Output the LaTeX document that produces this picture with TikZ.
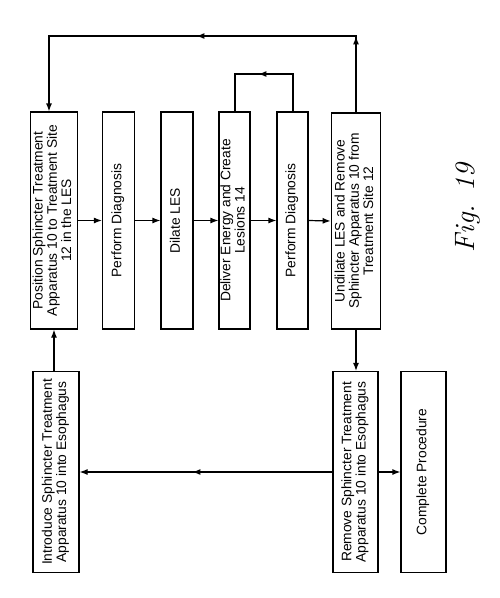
\documentclass[tikz,border=0pt]{standalone}
\usepackage{fontspec}
\newfontfamily\boxfont{Liberation Sans}
\usetikzlibrary{arrows.meta,decorations.markings}
\newcommand{\rtext}[1]{\rotatebox{90}{\begin{tabular}{@{}c@{}}#1\end{tabular}}}
\begin{document}
\begin{tikzpicture}[x=1pt,y=-1pt,
  box/.style={draw, line width=1.2pt, inner sep=0pt, align=center,
    font=\boxfont\fontsize{13.8}{14}\selectfont},
  tip/.style={-{Latex[length=8pt,width=6pt]}},
  conn/.style={line width=1.2pt},
  markat/.style={postaction={decorate}, decoration={markings,
    mark=at position #1 with {\arrow{Latex[length=8pt,width=6pt]}}}}
]
\useasboundingbox (0,0) rectangle (500,598);
% top row
\node[box, minimum width=47pt, minimum height=217pt] (A1) at (54,220.5)
  {\rtext{Position Sphincter Treatment\\Apparatus 10 to Treatment Site\\12 in the LES}};
\node[box, minimum width=32pt, minimum height=217pt] (A2) at (118.5,220.5)
  {\rtext{Perform Diagnosis}};
\node[box, minimum width=32pt, minimum height=217pt] (A3) at (177,220.5)
  {\rtext{Dilate LES}};
\node[box, minimum width=31pt, minimum height=217pt] (A4) at (234.5,220.5)
  {\rtext{Deliver Energy and Create\\Lesions 14}};
\node[box, minimum width=31pt, minimum height=217pt] (A5) at (292.5,220.5)
  {\rtext{Perform Diagnosis}};
\node[box, minimum width=49.5pt, minimum height=216pt] (A6) at (356,221)
  {\rtext{Undilate LES and Remove\\Sphincter Apparatus 10 from\\Treatment Site 12}};
% bottom row
\node[box, minimum width=46pt, minimum height=201pt] (B1) at (56,472)
  {\rtext{Introduce Sphincter Treatment\\Apparatus 10 into Esophagus}};
\node[box, minimum width=45pt, minimum height=201pt] (B2) at (355.5,472)
  {\rtext{Remove Sphincter Treatment\\Apparatus 10 into Esophagus}};
\node[box, minimum width=45pt, minimum height=201pt] (B3) at (423.5,472)
  {\rtext{Complete Procedure}};
% figure label
\node[rotate=90, font=\itshape\fontsize{28}{28}\selectfont] (fig) at (468,208) {Fig. 19};
% coordinates for loops
\coordinate (t1) at (356,36);
\coordinate (t2) at (49,36);
\coordinate (i1) at (293,74);
\coordinate (i2) at (235,74);
% connectors
\draw[conn,tip] (A1.south |- B1.north) -- (A1.south);
\draw[conn,tip] (A1.east) -- (A2.west);
\draw[conn,tip] (A2.east) -- (A3.west);
\draw[conn,tip] (A3.east) -- (A4.west);
\draw[conn,tip] (A4.east) -- (A5.west);
\draw[conn,tip] (A5.east) -- (A6.west);
\draw[conn,tip] (A6.south) -- (A6.south |- B2.north);
\draw[conn,tip,markat=140pt] (B2.west) -- (B1.east);
\draw[conn,tip] (B2.east) -- (B3.west);
\draw[conn,tip,postaction={decorate}, decoration={markings,
    mark=at position 76pt with {\arrow{Latex[length=8pt,width=6pt]}},
    mark=at position 236pt with {\arrow{Latex[length=8pt,width=6pt]}}}]
  (A6.north) -- (t1) -- (t2) -- (t2 |- A1.north);
\draw[conn,markat=72pt] (A5.north -| i1) -- (i1) -- (i2) -- (i2 |- A4.north);
\end{tikzpicture}
\end{document}
